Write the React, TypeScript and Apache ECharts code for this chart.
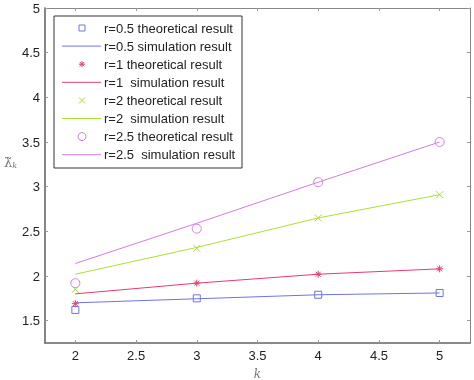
import { useEffect, useRef } from 'react';
import * as echarts from 'echarts';

const K = [2, 3, 4, 5];
const THEO_05 = [1.62, 1.75, 1.79, 1.81];
const SIM_05 = [1.7, 1.745, 1.79, 1.81];
const THEO_1 = [1.69, 1.92, 2.02, 2.08];
const SIM_1 = [1.8, 1.92, 2.02, 2.08];
const THEO_2 = [1.85, 2.31, 2.65, 2.91];
const SIM_2 = [2.02, 2.32, 2.65, 2.91];
const THEO_25 = [1.92, 2.53, 3.05, 3.5];
const SIM_25 = [2.14, 2.59, 3.05, 3.5];

const X_TICKS = [2, 2.5, 3, 3.5, 4, 4.5, 5];
const Y_TICKS = [1.5, 2, 2.5, 3, 3.5, 4, 4.5, 5];

const NAMES = [
  'r=0.5 theoretical result',
  'r=0.5 simulation result',
  'r=1 theoretical result',
  'r=1  simulation result',
  'r=2 theoretical result',
  'r=2  simulation result',
  'r=2.5 theoretical result',
  'r=2.5  simulation result',
];

const BLUE = '#6e74e6';
const RED = '#e63a6c';
const GREEN = '#a9e033';
const PURPLE = '#d37be3';

const ASTERISK = 'path://M5,0L5,10M0,5L10,5M1.5,1.5L8.5,8.5M8.5,1.5L1.5,8.5';
const CROSS = 'path://M0,0L10,10M10,0L0,10';

const pairs = (ys: number[]) => K.map((k, i) => [k, ys[i]]);

const FONT = 'Liberation Sans';

// legend drawing kinds (rows in order of NAMES)
const LEGEND_KINDS = ['rect', 'line', 'asterisk', 'line', 'cross', 'line', 'circle', 'line'];
const LEGEND_COLORS = [BLUE, BLUE, RED, RED, GREEN, GREEN, PURPLE, PURPLE];

function legendGraphic() {
  const box = { x: 54, y: 16, w: 188, h: 152 };
  const row0 = 28;
  const pitch = 18.1;
  const symX = 82;
  const children: any[] = [
    {
      type: 'rect',
      shape: { x: box.x, y: box.y, width: box.w, height: box.h },
      style: { fill: '#fff', stroke: '#333', lineWidth: 1 },
    },
  ];
  NAMES.forEach((name, i) => {
    const cy = row0 + i * pitch;
    const c = LEGEND_COLORS[i];
    const kind = LEGEND_KINDS[i];
    const st = { stroke: c, lineWidth: 1, fill: 'none' };
    if (kind === 'line') {
      children.push({ type: 'line', shape: { x1: 62, y1: cy, x2: 101, y2: cy }, style: st });
    } else if (kind === 'rect') {
      children.push({ type: 'rect', shape: { x: symX - 3, y: cy - 3, width: 6, height: 6 }, style: st });
    } else if (kind === 'circle') {
      children.push({ type: 'circle', shape: { cx: symX, cy, r: 4 }, style: st });
    } else if (kind === 'cross') {
      children.push({ type: 'line', shape: { x1: symX - 3, y1: cy - 3, x2: symX + 3, y2: cy + 3 }, style: st });
      children.push({ type: 'line', shape: { x1: symX + 3, y1: cy - 3, x2: symX - 3, y2: cy + 3 }, style: st });
    } else if (kind === 'asterisk') {
      children.push({ type: 'line', shape: { x1: symX, y1: cy - 3, x2: symX, y2: cy + 3 }, style: st });
      children.push({ type: 'line', shape: { x1: symX - 3, y1: cy, x2: symX + 3, y2: cy }, style: st });
      children.push({ type: 'line', shape: { x1: symX - 2.2, y1: cy - 2.2, x2: symX + 2.2, y2: cy + 2.2 }, style: st });
      children.push({ type: 'line', shape: { x1: symX + 2.2, y1: cy - 2.2, x2: symX - 2.2, y2: cy + 2.2 }, style: st });
    }
    children.push({
      type: 'text',
      x: 104,
      y: cy,
      style: {
        text: name,
        fontFamily: FONT,
        fontSize: 13,
        fill: '#222',
        verticalAlign: 'middle',
        align: 'left',
      },
    });
  });
  return { type: 'group', left: 0, top: 0, bounding: 'raw', z: 100, children };
}

export default function App() {
  const ref = useRef<HTMLDivElement>(null);
  useEffect(() => {
    const chart = echarts.init(ref.current!, null, { renderer: 'svg' });

    const theo = (name: string, ys: number[], color: string, symbol: string, size: number) => ({
      name,
      type: 'line',
      data: pairs(ys),
      symbol,
      symbolSize: size,
      showSymbol: true,
      lineStyle: { width: 0, color },
      itemStyle: { color: 'transparent', borderColor: color, borderWidth: 1 },
      z: 3,
    });
    const sim = (name: string, ys: number[], color: string) => ({
      name,
      type: 'line',
      data: pairs(ys),
      symbol: 'none',
      lineStyle: { width: 1, color },
      itemStyle: { color },
      z: 2,
    });

    const xBase = { type: 'value', min: 1.75, max: 5.25, splitLine: { show: false } };
    const yBase = { type: 'value', min: 1.25, max: 5, splitLine: { show: false } };
    const tick = (vals: number[]) => ({
      show: true,
      inside: true,
      length: 3,
      customValues: vals,
      lineStyle: { color: '#999', width: 1 },
    });

    chart.setOption({
      animation: false,
      textStyle: { fontFamily: FONT },
      grid: { left: 45, right: 4, top: 8, bottom: 37, containLabel: false, outerBoundsMode: 'none' },
      xAxis: [
        {
          ...xBase,
          position: 'bottom',
          axisLine: { show: true, onZero: false, lineStyle: { color: '#666', width: 1.6 } },
          axisTick: tick(X_TICKS),
          axisLabel: { customValues: X_TICKS, color: '#222', fontSize: 13, margin: 6, fontFamily: FONT },
          name: 'k',
          nameLocation: 'middle',
          nameGap: 25,
          nameTextStyle: { fontFamily: 'DejaVu Serif', fontStyle: 'italic', fontSize: 12, color: '#777' },
        },
        {
          ...xBase,
          position: 'top',
          axisLine: { show: true, onZero: false, lineStyle: { color: '#888', width: 1 } },
          axisTick: tick(X_TICKS),
          axisLabel: { show: false },
        },
      ],
      yAxis: [
        {
          ...yBase,
          position: 'left',
          axisLine: { show: true, onZero: false, lineStyle: { color: '#666', width: 1.6 } },
          axisTick: tick(Y_TICKS),
          axisLabel: { customValues: Y_TICKS, color: '#222', fontSize: 13, margin: 5, fontFamily: FONT },
        },
        {
          ...yBase,
          position: 'right',
          axisLine: { show: true, onZero: false, lineStyle: { color: '#888', width: 1 } },
          axisTick: tick(Y_TICKS),
          axisLabel: { show: false },
        },
      ],
      graphic: [
        legendGraphic(),
        {
          type: 'text',
          left: 4,
          top: 156,
          style: {
            text: '{l|λ̃}{s|k}',
            rich: {
              l: { fontFamily: 'DejaVu Serif', fontSize: 13, fill: '#777' },
              s: { fontFamily: 'DejaVu Serif', fontStyle: 'italic', fontSize: 8, fill: '#777', padding: [6, 0, 0, 0] },
            },
          },
        },
      ],
      series: [
        theo(NAMES[0], THEO_05, BLUE, 'rect', 7),
        sim(NAMES[1], SIM_05, BLUE),
        theo(NAMES[2], THEO_1, RED, ASTERISK, 7),
        sim(NAMES[3], SIM_1, RED),
        theo(NAMES[4], THEO_2, GREEN, CROSS, 7),
        sim(NAMES[5], SIM_2, GREEN),
        theo(NAMES[6], THEO_25, PURPLE, 'circle', 9),
        sim(NAMES[7], SIM_25, PURPLE),
      ],
    });
    return () => chart.dispose();
  }, []);
  return <div ref={ref} style={{ position: 'fixed', left: 0, top: 0, width: 474, height: 380 }} />;
}
